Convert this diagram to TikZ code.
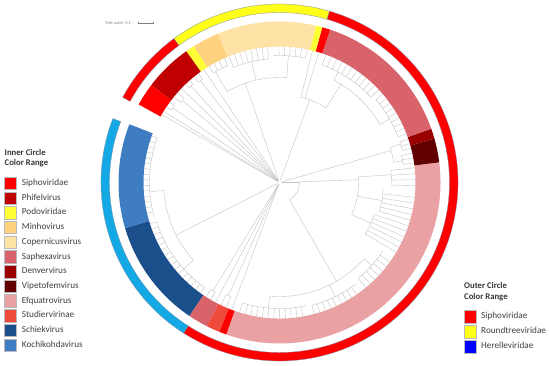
\documentclass[tikz,border=0pt]{standalone}
\usepackage{fontspec}
\setmainfont{Carlito}
\definecolor{sipho}{HTML}{FF0000}
\definecolor{phifel}{HTML}{C00000}
\definecolor{podo}{HTML}{FFFF33}
\definecolor{minho}{HTML}{FFD27F}
\definecolor{copern}{HTML}{FFE3A6}
\definecolor{saphex}{HTML}{D9636A}
\definecolor{denver}{HTML}{9A0000}
\definecolor{vipeto}{HTML}{620000}
\definecolor{efquat}{HTML}{E9A1A4}
\definecolor{studier}{HTML}{F04A3C}
\definecolor{schiek}{HTML}{1B4F8C}
\definecolor{kochik}{HTML}{3E7DC1}
\definecolor{ringred}{HTML}{FF0000}
\definecolor{ringyel}{HTML}{FFFF1A}
\definecolor{ringblue}{HTML}{14A8E4}
\definecolor{herel}{HTML}{0000FF}
\definecolor{legtext}{HTML}{404040}
\definecolor{treegray}{HTML}{C4C4C4}
\definecolor{ringedge}{HTML}{7F8FA8}
\newcommand\ringseg[5]{\fill[#1] (#2:#4) arc[start angle=#2,end angle=#3,radius=#4] -- (#3:#5) arc[start angle=#3,end angle=#2,radius=#5] -- cycle;}
\newcommand\tbr[3]{\draw[treeline] (#1:#2pt) -- (#1:#3pt);}
\newcommand\tarc[3]{\draw[treeline] (#2:#1pt) arc[start angle=#2,end angle=#3,radius=#1pt];}
\newcommand\leafs[2]{\foreach \ang in {#1}{\draw[treeline] (\ang:#2pt) -- (\ang:136pt);}}
\begin{document}
\begin{tikzpicture}[x=1pt,y=1pt,
  treeline/.style={draw=treegray,line width=0.4pt},
  legsq/.style={draw=gray!55,line width=0.4pt,minimum size=12.5pt,inner sep=0pt,outer sep=0pt},
  legtxt/.style={anchor=west,inner sep=0pt,text height=6.5pt,text depth=2pt,font=\fontsize{9.2}{10}\selectfont,text=legtext},
  leghead/.style={anchor=west,inner sep=0pt,text height=6.2pt,text depth=2pt,font=\fontsize{8.7}{10}\selectfont\bfseries,text=legtext!85!black}]
\fill[white] (0,0) rectangle (550,365);
\useasboundingbox (0,0) rectangle (550,365);

\begin{scope}[shift={(279.5,182.5)}]
% outer ring
\ringseg{ringred,draw=ringedge,line width=0.3pt}{237.5}{433.8}{170pt}{178.5pt}
\ringseg{ringyel,draw=ringedge,line width=0.3pt}{73.8}{126.3}{170pt}{178.5pt}
\ringseg{ringred,draw=ringedge,line width=0.3pt}{126.3}{151.5}{170pt}{178.5pt}
\ringseg{ringblue,draw=ringedge,line width=0.3pt}{159}{237.5}{170pt}{178.5pt}
% inner band
\ringseg{efquat}{250.7}{367.2}{136pt}{161pt}
\ringseg{vipeto}{7.2}{15.8}{136pt}{161pt}
\ringseg{denver}{15.8}{19.5}{136pt}{161pt}
\ringseg{saphex}{19.5}{71.7}{136pt}{161pt}
\ringseg{sipho}{71.7}{74.6}{136pt}{161pt}
\ringseg{podo}{74.6}{77}{136pt}{161pt}
\ringseg{copern}{77}{112.5}{136pt}{161pt}
\ringseg{minho}{112.5}{122.2}{136pt}{161pt}
\ringseg{podo}{122.2}{125.4}{136pt}{161pt}
\ringseg{phifel}{125.4}{142.8}{136pt}{161pt}
\ringseg{sipho}{142.8}{151}{136pt}{161pt}
\ringseg{kochik}{158.8}{196.5}{136pt}{161pt}
\ringseg{schiek}{196.5}{236}{136pt}{161pt}
\ringseg{saphex}{236}{243.3}{136pt}{161pt}
\ringseg{studier}{243.3}{248.1}{136pt}{161pt}
\ringseg{sipho}{248.1}{250.7}{136pt}{161pt}

% tree: Saphexavirus (top right)
\tbr{70}{2}{88} \tarc{88}{58}{75.9}
\tbr{75.9}{88}{136} \tbr{73.2}{88}{136}
\tbr{58}{88}{116} \tarc{116}{30}{62}
\tbr{30}{116}{127} \tarc{127}{21}{40.6} \leafs{21,23.45,...,40.6}{127}
\tbr{62}{116}{125} \tarc{125}{43.05}{70} \leafs{43.05,45.5,...,70}{125}
% Denvervirus / Vipetofemvirus
\tbr{16}{2}{116} \tarc{116}{10}{17.6}
\tbr{10}{116}{125} \tarc{125}{8.3}{12.5} \leafs{8.3,10.4,12.5}{125}
\tbr{17.6}{116}{127} \tarc{127}{14.6}{18.6} \leafs{14.6,16.6,18.6}{127}
% Copernicusvirus / Minhovirus
\tbr{109}{2}{105} \tarc{105}{86}{120}
\tbr{86}{105}{127} \tarc{127}{78.2}{92.6} \leafs{78.2,80.6,...,92.6}{127}
\tbr{103}{105}{124} \tarc{124}{95}{111.8} \leafs{95,97.4,...,111.8}{124}
\tbr{120}{105}{128} \tarc{128}{114}{121.2} \leafs{114,116.4,118.8,121.2}{128}
\tbr{123.8}{2}{136}
% Phifelvirus / Siphoviridae (upper left)
\tbr{127.8}{2}{129} \tarc{129}{126.6}{129} \leafs{126.6,129}{129}
\tbr{132.6}{2}{131} \tarc{131}{131.4}{133.8} \leafs{131.4,133.8}{131}
\tbr{136.2}{2}{136}
\tbr{139.8}{2}{127} \tarc{127}{138.6}{141} \leafs{138.6,141}{127}
\tbr{145}{2}{130} \tarc{130}{143.9}{146.2} \leafs{143.9,146.2}{130}
\tbr{148.5}{2}{136} \tbr{150}{2}{136}
% Kochikohdavirus / Schiekvirus
\tbr{207}{2}{116} \tarc{116}{184}{222}
\tbr{184}{116}{130} \tarc{130}{160}{195.4} \leafs{160,162.36,...,195.4}{130}
\tbr{222}{116}{129} \tarc{129}{197.7}{234.45} \leafs{197.7,200.15,...,234.45}{129}
% bottom left
\tbr{238.4}{2}{127} \tarc{127}{237.3}{239.6} \leafs{237.3,239.6}{127}
\tbr{241.9}{2}{136}
\tbr{245.7}{2}{124} \tarc{124}{244.5}{246.9} \leafs{244.5,246.9}{124}
\tbr{249.4}{2}{136}
% Efquatrovirus
\tbr{0}{2}{20} \tarc{20}{-60}{2}
\tbr{2}{20}{79} \tarc{79}{-24}{4}
\tbr{4}{79}{112} \tarc{112}{-1.3}{6.2} \leafs{-1.3,1.2,3.7,6.2}{112}
\tbr{-10}{79}{104} \tarc{104}{-16.1}{-3.8} \leafs{-16.1,-13.64,...,-3.8}{104}
\tbr{-24}{79}{100} \tarc{100}{-30.9}{-18.6} \leafs{-30.9,-28.44,...,-18.6}{100}
\tbr{-60}{20}{114} \tarc{114}{-95}{-42}
\tbr{-42}{114}{124} \tarc{124}{-50.6}{-33.4} \leafs{-50.6,-48.14,...,-33.4}{124}
\tbr{-64}{114}{127} \tarc{127}{-75.2}{-53.1} \leafs{-75.2,-72.74,...,-53.1}{127}
\tbr{-95}{114}{126} \tarc{126}{-107.1}{-77.7} \leafs{-107.1,-104.65,...,-77.7}{126}
\end{scope}

% tree scale
\node[anchor=west,inner sep=0pt,font=\fontsize{4.4}{5}\selectfont,text=gray] (tscale) at (105,341.7) {Tree scale: 0.1};
\coordinate (sbA) at (138,341.7);
\coordinate (sbB) at (153,341.7);
\draw[gray,line width=0.4pt] (sbA) -- (sbB);
\draw[gray,line width=0.4pt] ([yshift=-1pt]sbA) -- ([yshift=1pt]sbA);
\draw[gray,line width=0.4pt] ([yshift=-1pt]sbB) -- ([yshift=1pt]sbB);

% inner legend
\node[leghead] (ih1) at (4.5,211.7) {Inner Circle};
\node[leghead] (ih2) at (4.5,201.7) {Color Range};
\foreach \col/\lab [count=\i from 0] in {sipho/Siphoviridae,phifel/Phifelvirus,podo/Podoviridae,minho/Minhovirus,copern/Copernicusvirus,saphex/Saphexavirus,denver/Denvervirus,vipeto/Vipetofemvirus,efquat/Efquatrovirus,studier/Studiervirinae,schiek/Schiekvirus,kochik/Kochikohdavirus}{
  \node[legsq,fill=\col] (isq\i) at (10.4,{181.7-14.7*\i}) {};
  \node[legtxt] (itx\i) at (21.7,{181.7-14.7*\i}) {\lab};
}

% outer legend
\node[leghead] (oh1) at (464,78.3) {Outer Circle};
\node[leghead] (oh2) at (464,67.7) {Color Range};
\foreach \col/\lab [count=\i from 0] in {ringred/Siphoviridae,ringyel/Roundtreeviridae,herel/Herelleviridae}{
  \node[legsq,fill=\col] (osq\i) at (470,{48.3-15*\i}) {};
  \node[legtxt] (otx\i) at (481,{48.3-15*\i}) {\lab};
}
\end{tikzpicture}
\end{document}
